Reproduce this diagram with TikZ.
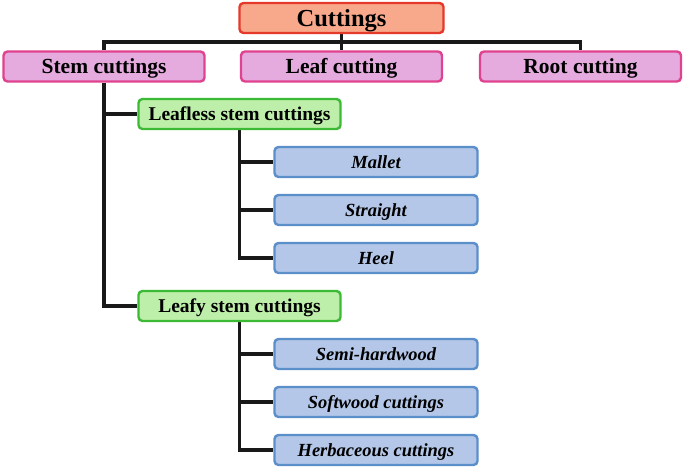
\documentclass[tikz,border=0pt]{standalone}
\usepackage{fontspec}
\setmainfont{Liberation Serif}
\definecolor{rootfill}{HTML}{F9A98B}
\definecolor{rootline}{HTML}{E5392B}
\definecolor{typefill}{HTML}{E5ABDE}
\definecolor{typeline}{HTML}{DF428F}
\definecolor{groupfill}{HTML}{BEEFAA}
\definecolor{groupline}{HTML}{3CBA36}
\definecolor{kindfill}{HTML}{B4C7E8}
\definecolor{kindline}{HTML}{5B8FCA}
\tikzset{
  box/.style={draw,rounded corners=4pt,line width=2.4pt,minimum height=30pt,
    inner sep=0pt,text depth=0pt},
  topbox/.style={box,fill=rootfill,draw=rootline,minimum width=204pt,
    text height=17pt,font=\bfseries\fontsize{24.5}{26}\selectfont},
  typebox/.style={box,fill=typefill,draw=typeline,minimum width=201pt,
    text height=14.5pt,font=\bfseries\fontsize{21.5}{24}\selectfont},
  groupbox/.style={box,fill=groupfill,draw=groupline,minimum width=202pt,
    text height=13pt,font=\bfseries\fontsize{19.5}{22}\selectfont},
  kindbox/.style={box,fill=kindfill,draw=kindline,minimum width=203pt,
    text height=12.5pt,font=\bfseries\itshape\fontsize{18.5}{21}\selectfont},
  link/.style={line width=3.6pt,black!90}
}
\begin{document}
\begin{tikzpicture}[x=1pt,y=-1pt]
\useasboundingbox (0,0) rectangle (685,467);
% connectors
\coordinate (bar) at (341.5,42);
\draw[link] (341.5,34) -- (341.5,50);
\draw[link] (104,50) |- (bar) -| (580.5,50);
\draw[link] (104,83) |- (137,114);
\draw[link] (104,83) |- (137,306);
\draw[link] (239.5,130) |- (273,162);
\draw[link] (239.5,130) |- (273,210);
\draw[link] (239.5,130) |- (273,258);
\draw[link] (239.5,322) |- (273,354);
\draw[link] (239.5,322) |- (273,402);
\draw[link] (239.5,322) |- (273,450);
% boxes
\node[topbox] (cut) at (341.5,18) {Cuttings};
\node[typebox] (stem) at (104,66.5) {Stem cuttings};
\node[typebox] (leaf) at (341.5,66.5) {Leaf cutting};
\node[typebox] (root) at (580.5,66.5) {Root cutting};
\node[groupbox] (leafless) at (239.5,114) {Leafless stem cuttings};
\node[groupbox] (leafy) at (239.5,306) {Leafy stem cuttings};
\node[kindbox] (mallet) at (376,162) {Mallet};
\node[kindbox] (straight) at (376,210) {Straight};
\node[kindbox] (heel) at (376,258) {Heel};
\node[kindbox] (semi) at (376,354) {Semi-hardwood};
\node[kindbox] (soft) at (376,402) {Softwood cuttings};
\node[kindbox] (herb) at (376,450) {Herbaceous cuttings};
\end{tikzpicture}
\end{document}
